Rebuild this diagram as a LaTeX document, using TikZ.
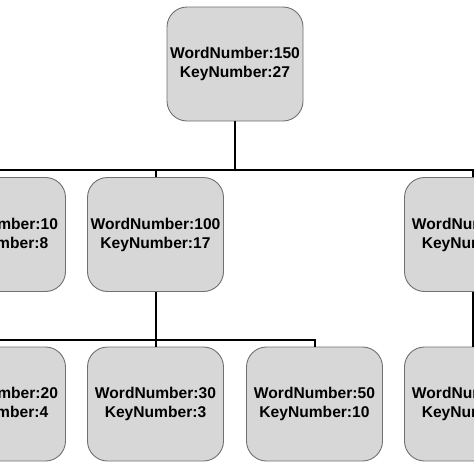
\documentclass[tikz,border=0pt]{standalone}
\usepackage{fontspec}
\setmainfont{Liberation Sans}
\definecolor{boxfill}{HTML}{D7D7D7}
\definecolor{boxborder}{HTML}{707070}
\tikzset{
  box/.style={draw=boxborder, fill=boxfill, rounded corners=20pt,
    minimum width=136pt, minimum height=114pt, inner sep=0pt,
    align=center, line width=0.9pt,
    font=\fontsize{15.6pt}{19pt}\selectfont\bfseries},
  link/.style={line width=2pt, draw=black}
}
\begin{document}
\begin{tikzpicture}[x=1pt,y=-1pt]
\useasboundingbox (0,0) rectangle (474,474);
\clip (0,0) rectangle (474,474);
\node[box] (top) at (235,64) {WordNumber:150\\KeyNumber:27};
\node[box] (m1) at (-2.5,234.5) {WordNumber:10\\KeyNumber:8};
\node[box] (m2) at (155.5,234.5) {WordNumber:100\\KeyNumber:17};
\node[box] (m3) at (472.5,234.5) {WordNumber:40\\KeyNumber:6};
\node[box] (b1) at (-2.5,404) {WordNumber:20\\KeyNumber:4};
\node[box] (b2) at (155.5,404) {WordNumber:30\\KeyNumber:3};
\node[box] (b3) at (314.5,404) {WordNumber:50\\KeyNumber:10};
\node[box] (b4) at (472.5,404) {WordNumber:40\\KeyNumber:6};
\coordinate (j1) at (235,170);
\coordinate (j2) at (155.5,340);
\draw[link] (top.south) -- (j1);
\draw[link] (m1.north) |- (j1) -| (m3.north);
\draw[link] (j1) -| (m2.north);
\draw[link] (m2.south) -- (j2);
\draw[link] (b1.north) |- (j2) -| (b3.north);
\draw[link] (j2) -- (b2.north);
\draw[link] (m3.south) -- (b4.north);
\end{tikzpicture}
\end{document}
